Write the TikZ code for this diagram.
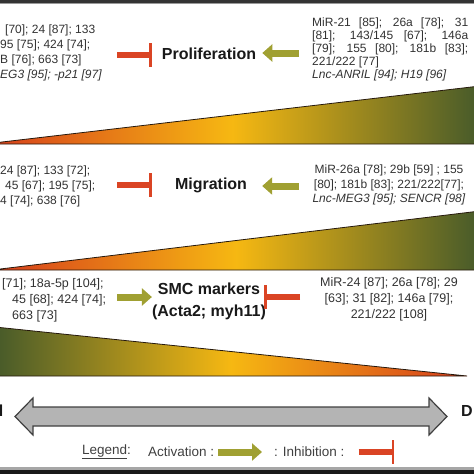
\documentclass[tikz,border=0pt]{standalone}
\usepackage{fontspec}
\setmainfont{Liberation Sans}
\usetikzlibrary{arrows.meta, positioning, calc}

\definecolor{inhred}{RGB}{218,68,36}
\definecolor{actolive}{RGB}{160,160,50}
\definecolor{triRed}{RGB}{214,60,28}
\definecolor{triYellow}{RGB}{246,184,18}
\definecolor{triGreen}{RGB}{70,90,42}
\definecolor{txtgray}{RGB}{50,50,50}
\definecolor{axisgray}{RGB}{180,180,180}

\begin{document}
\begin{tikzpicture}[x=1pt, y=-1pt,
    reftext/.style={text=txtgray, inner sep=0pt, font=\fontsize{12}{15}\selectfont},
    process/.style={text=black!90, inner sep=0pt, align=center, font=\fontsize{16}{22}\selectfont\bfseries},
    inhib/.style={draw=inhred, line width=6pt, -{Bar[width=24pt, line width=2.5pt]}},
    act/.style={draw=actolive, line width=7pt, -{Triangle[length=10pt, width=17pt]}},
    triedge/.style={draw=black!80!brown, line width=0.8pt},
    legendtxt/.style={text=black!75, inner sep=0pt, font=\fontsize{13.5}{16}\selectfont}]

    \useasboundingbox (0,0) rectangle (474,474);
    \clip (0,0) rectangle (474,474);

    % 上下边框
    \fill[black!80] (0,0) rectangle (474,2.5);
    \fill[black!40] (0,2.5) rectangle (474,4);
    \fill[black!35] (0,467) rectangle (474,470);
    \fill[black!90] (0,470) rectangle (474,474);

    % 1. 渐变三角形 (前两个从左向右增大)
    \foreach \ytop/\ybot/\xtip in {86/144/-15, 211/270/-8}
    {
        \shadedraw[triedge, left color=triRed, right color=triGreen, middle color=triYellow]
            (\xtip,\ybot) -- (480,\ytop) -- (480,\ybot) -- cycle;
    }
    % 第三个三角形方向相反
    \shadedraw[triedge, left color=triGreen, right color=triRed, middle color=triYellow]
        (-5,327) -- (467,376) -- (-5,376) -- cycle;

    % 2. 三个过程标签
    \node[process] (prolif) at (209,54) {Proliferation};
    \node[process] (migr) at (211,185) {Migration};
    \node[process] (smc) at (209,301) {SMC markers\\(Acta2; myh11)};

    % 3. 左侧文献列表 (抑制)
    \node[reftext, anchor=north west, align=left] (prolifInhTxt) at (0,24.5)
        {\hspace*{5pt}[70]; 24 [87]; 133\\ 95 [75]; 424 [74];\\ B [76]; 663 [73]\\ \textit{EG3 [95]; -p21 [97]}};
    \node[reftext, anchor=north west, align=left] (migInhTxt) at (0,165.5)
        {24 [87]; 133 [72];\\ \hspace*{5pt}45 [67]; 195 [75];\\ 4 [74]; 638 [76]};
    \node[reftext, anchor=north west, align=left, font=\fontsize{12.5}{16}\selectfont] (smcActTxt) at (2,278)
        {[71]; 18a-5p [104];\\ \hspace*{10pt}45 [68]; 424 [74];\\ \hspace*{10pt}663 [73]};

    % 4. 右侧文献列表
    \node[reftext, anchor=north west, align=left, font=\fontsize{12}{13}\selectfont] (prolifActTxt) at (312,17.5)
        {\makebox[156pt][s]{MiR-21 [85]; 26a [78]; 31}\\
         \makebox[156pt][s]{[81]; 143/145 [67]; 146a}\\
         \makebox[156pt][s]{[79]; 155 [80]; 181b [83];}\\
         221/222 [77]\\ \textit{Lnc-ANRIL [94]; H19 [96]}};
    \node[reftext, align=center, font=\fontsize{12}{14.5}\selectfont] (migActTxt) at (389,185)
        {MiR-26a [78]; 29b [59] ; 155\\{}[80]; 181b [83]; 221/222[77];\\ \textit{Lnc-MEG3 [95]; SENCR [98]}};
    \node[reftext, align=center, font=\fontsize{12.5}{16}\selectfont] (smcInhTxt) at (389,299)
        {MiR-24 [87]; 26a [78]; 29\\{}[63]; 31 [82]; 146a [79];\\ 221/222 [108]};

    % 5. 箭头 (激活) 与 T 形线 (抑制)
    \coordinate (prolifInh) at (117,55);
    \coordinate (prolifAct) at (299,53);
    \coordinate (migInh) at (117,185);
    \coordinate (migAct) at (299,186);
    \coordinate (smcAct) at (117,297);
    \coordinate (smcInh) at (300,297);
    \draw[inhib, shorten >=10pt] (prolifInh) -- (prolifInh -| prolif.west);
    \draw[act, shorten >=6pt] (prolifAct) -- (prolifAct -| prolif.east);
    \draw[inhib, shorten >=23pt] (migInh) -- (migInh -| migr.west);
    \draw[act, shorten >=15pt] (migAct) -- (migAct -| migr.east);
    \draw[act] (smcAct) -- (smcAct -| smc.west);
    \draw[inhib, shorten >=-2pt] (smcInh) -- (smcInh -| smc.east);

    % 6. 灰色双向大箭头
    \node[process, anchor=east] (stateL) at (3.5,411) {l};
    \node[process, anchor=west] (stateR) at (461,411) {D};
    \draw[draw=black!75, fill=axisgray, line width=1.2pt, line join=miter]
        (15,416.5) -- (33,398) -- (33,407) -- (429,407) -- (429,398) -- (447,416.5)
        -- (429,435) -- (429,426) -- (33,426) -- (33,435) -- cycle;

    % 7. 图例
    \node[legendtxt, anchor=west] (legTitle) at (82,452) {\underline{Legend}:};
    \node[legendtxt, anchor=west] (legAct) at (148,452) {Activation :};
    \node[legendtxt, anchor=west] (legInh) at (274,452) {: Inhibition :};
    \coordinate (legEnd) at (394,452);
    \draw[act, shorten <=4pt, shorten >=12pt] (legAct.east) -- (legInh.west);
    \draw[inhib, shorten <=14pt] (legInh.east) -- (legEnd);

\end{tikzpicture}
\end{document}
